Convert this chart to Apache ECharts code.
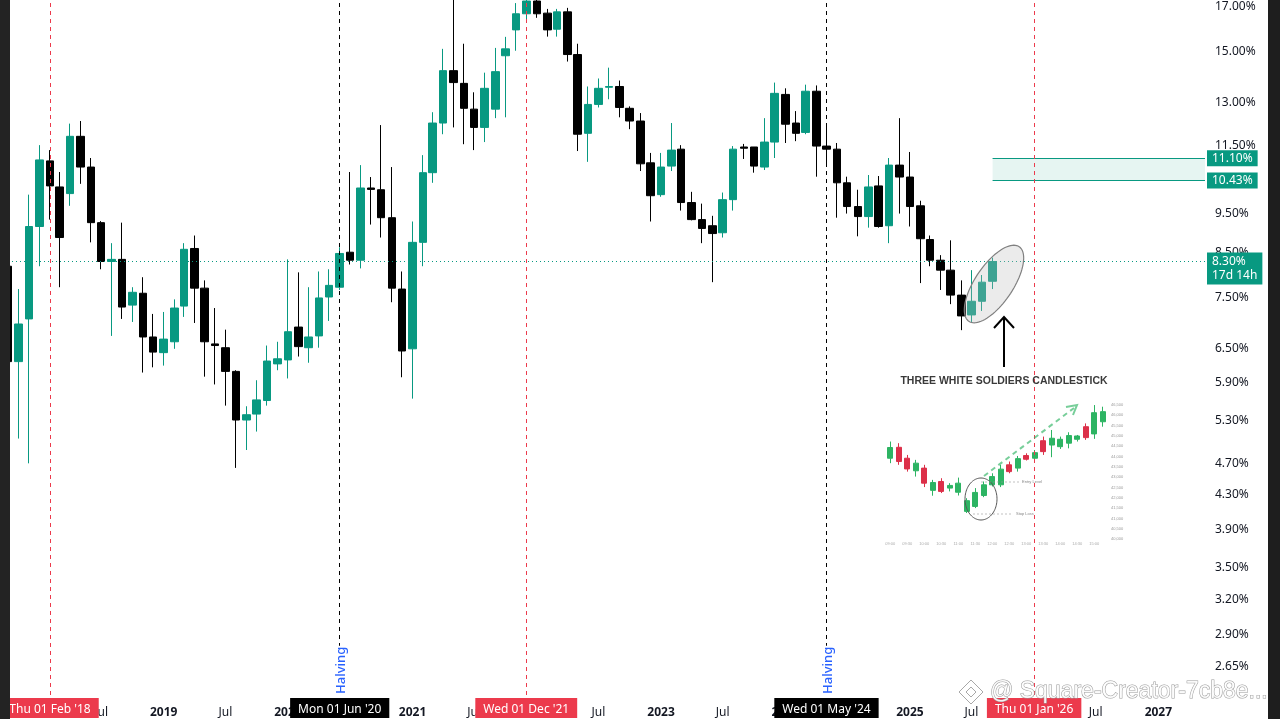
<!DOCTYPE html>
<html>
<head>
<meta charset="utf-8">
<script src="https://cdn.jsdelivr.net/npm/echarts@6/dist/echarts.min.js"></script>
<style>html,body{margin:0;padding:0;background:#fff;overflow:hidden}#c{width:1280px;height:719px}</style>
</head>
<body>
<div id="c"></div>
<script>
// ---------- main chart data (monthly candles, %) ----------
const months = [
'2017-10-01','2017-11-01','2017-12-01',
'2018-01-01','2018-02-01','2018-03-01','2018-04-01','2018-05-01','2018-06-01','2018-07-01','2018-08-01','2018-09-01','2018-10-01','2018-11-01','2018-12-01',
'2019-01-01','2019-02-01','2019-03-01','2019-04-01','2019-05-01','2019-06-01','2019-07-01','2019-08-01','2019-09-01','2019-10-01','2019-11-01','2019-12-01',
'2020-01-01','2020-02-01','2020-03-01','2020-04-01','2020-05-01','2020-06-01','2020-07-01','2020-08-01','2020-09-01','2020-10-01','2020-11-01','2020-12-01',
'2021-01-01','2021-02-01','2021-03-01','2021-04-01','2021-05-01','2021-06-01','2021-07-01','2021-08-01','2021-09-01','2021-10-01','2021-11-01','2021-12-01',
'2022-01-01','2022-02-01','2022-03-01','2022-04-01','2022-05-01','2022-06-01','2022-07-01','2022-08-01','2022-09-01','2022-10-01','2022-11-01','2022-12-01',
'2023-01-01','2023-02-01','2023-03-01','2023-04-01','2023-05-01','2023-06-01','2023-07-01','2023-08-01','2023-09-01','2023-10-01','2023-11-01','2023-12-01',
'2024-01-01','2024-02-01','2024-03-01','2024-04-01','2024-05-01','2024-06-01','2024-07-01','2024-08-01','2024-09-01','2024-10-01','2024-11-01','2024-12-01',
'2025-01-01','2025-02-01','2025-03-01','2025-04-01','2025-05-01','2025-06-01','2025-07-01','2025-08-01','2025-09-01'
];
const openV = [
8.19,6.26,7.06,
9.16,11.02,10.24,10.05,11.81,10.83,9.26,8.30,8.35,7.34,7.59,6.71,
6.42,6.62,7.32,8.61,7.70,6.58,6.51,6.09,5.31,5.40,5.61,6.22,
6.29,6.90,6.51,6.73,7.51,7.72,8.52,8.33,10.21,10.16,9.39,7.68,
6.49,8.76,10.66,12.26,14.21,13.71,12.75,12.11,12.75,14.82,15.94,16.68,
17.29,16.71,15.97,16.77,14.87,11.91,12.92,13.56,13.59,12.78,12.33,10.96,
10.02,10.86,11.39,9.80,9.34,9.18,9.00,9.88,11.46,11.46,10.83,11.62,
13.29,12.26,11.94,13.41,11.49,11.39,10.36,9.69,9.42,10.27,9.18,10.89,
10.53,9.71,8.83,8.33,8.10,7.55,7.14,7.42,7.85
];
const closeV = [
6.26,6.96,9.16,
11.05,10.27,8.88,11.81,10.83,9.26,8.30,8.35,7.30,7.61,6.71,6.43,
6.67,7.28,8.59,7.70,6.62,6.55,6.09,5.31,5.39,5.62,6.27,6.31,
6.81,6.53,6.71,7.49,7.76,8.49,8.33,10.21,10.17,9.39,7.70,6.45,
8.76,10.66,12.26,14.21,13.74,12.78,12.11,13.52,14.17,15.11,16.68,17.29,
16.68,15.94,16.77,14.87,11.88,12.92,13.52,13.59,12.81,12.33,10.93,9.99,
10.83,11.36,9.80,9.34,9.11,8.98,9.88,11.39,11.42,10.86,11.62,13.33,
12.22,11.91,13.41,11.49,11.39,10.36,9.69,9.42,10.24,9.16,10.89,10.53,
9.69,8.85,8.33,8.10,7.55,7.12,7.42,7.83,8.30
];
const lowV = [
6.20,5.04,4.70,
8.19,9.34,7.72,9.71,10.33,8.76,8.12,6.73,7.06,7.00,6.07,6.16,
6.19,6.49,7.10,6.98,6.00,5.87,5.53,4.64,4.88,5.14,5.53,6.11,
5.97,6.35,6.24,6.51,7.02,7.66,8.23,8.14,9.21,8.88,7.40,5.99,
5.64,8.19,10.36,11.88,12.11,11.55,11.36,11.62,12.43,12.46,15.03,16.35,
16.49,15.64,15.64,14.58,11.33,10.99,12.81,13.11,12.46,12.05,10.71,9.29,
9.96,10.71,9.58,9.32,8.74,7.83,8.88,9.58,11.08,10.66,10.74,11.11,
11.59,11.65,11.88,10.54,10.90,9.39,9.50,8.91,9.13,9.13,8.74,9.50,
9.16,7.81,8.19,7.66,7.36,6.84,7.00,7.22,7.68
];
const highV = [
8.35,7.68,10.02,
11.52,11.36,10.68,12.24,12.33,11.11,9.30,8.74,9.26,7.72,7.94,7.16,
7.20,7.46,8.74,8.93,7.87,7.28,6.85,6.11,5.52,5.94,6.55,6.62,
8.35,8.05,7.72,8.07,8.12,8.64,10.68,10.89,10.53,12.19,10.83,8.07,
9.29,11.20,12.64,15.11,17.70,15.33,13.37,14.13,15.15,15.63,17.19,17.50,
17.40,16.91,16.91,16.96,15.33,13.59,13.90,14.33,13.82,12.85,12.61,11.27,
11.27,12.26,11.52,10.10,9.77,9.44,10.08,11.49,11.56,11.46,12.43,13.74,
13.52,12.68,13.66,13.63,12.26,11.59,10.54,10.16,10.59,10.56,11.11,12.43,
11.30,9.85,8.93,8.45,8.81,7.87,8.10,7.99,8.39
];
const yTickValues = [17, 15, 13, 11.5, 9.5, 8.5, 7.5, 6.5, 5.9, 5.3, 4.7, 4.3, 3.9, 3.5, 3.2, 2.9, 2.65];
const xTickDates = ['2018-01-01','2018-07-01','2019-01-01','2019-07-01','2020-01-01','2020-07-01','2021-01-01','2021-07-01',
  '2022-01-01','2022-07-01','2023-01-01','2023-07-01','2024-01-01','2024-07-01','2025-01-01','2025-07-01','2026-01-01','2026-07-01','2027-01-01'];
const lastPrice = 8.30;
const lastPriceLabel = '8.30%\n17d 14h';
const zoneTop = 11.10;
const zoneBottom = 10.43;
const zoneStart = '2025-09-01';
const eventDates = ['2018-02-01','2020-06-01','2021-12-01','2024-05-01','2026-01-01'];
const eventLabels = ["Thu 01 Feb '18","Mon 01 Jun '20","Wed 01 Dec '21","Wed 01 May '24","Thu 01 Jan '26"];
const eventKinds = ['red','black','red','black','red'];
const halvingDates = ['2020-06-01','2024-05-01'];
const axisStart = '2017-09-07';
const axisEnd = '2027-05-18';

// ---------- inset ("three white soldiers" example) ----------
const insetCats = ['09:00','09:15','09:30','09:45','10:00','10:15','10:30','10:45','11:00','11:15','11:30','11:45','12:00',
  '12:15','12:30','12:45','13:00','13:15','13:30','13:45','14:00','14:15','14:30','14:45','15:00','15:15'];
const insetOpen  = [43920,44450,43920,43310,43440,42360,42790,42470,42270,41340,41580,42110,42630,42630,43600,43440,44050,43920,44770,44560,44480,44650,44840,45450,45100,45690];
const insetClose = [44440,43760,43400,43680,42710,42740,42310,42600,42710,41860,42260,42630,43030,43390,43270,43900,43870,44190,44240,44890,44840,45020,45000,44920,46130,46180];
const insetLow   = [43680,43600,43270,43030,42520,42100,42230,42310,42110,41260,41500,42030,42550,42520,43190,43270,43810,43760,44080,43970,44370,44400,44730,44810,44860,45450];
const insetHigh  = [44730,44650,44080,43840,43600,42870,42950,42710,42980,41980,42470,42790,43190,43600,43760,44030,44160,44320,44970,45290,44970,45180,45050,45610,46500,46420];
const insetTitle = 'THREE WHITE SOLDIERS CANDLESTICK';

// ---------- build ----------
const UP = '#089981', DOWN = '#000000', RED = '#ec3a4c';
const FONT = 'Noto Sans';
const ts = s => Date.parse(s + 'T00:00:00Z');
const mainData = months.map((m, i) => [ts(m), openV[i], closeV[i], lowV[i], highV[i]]);
const insetData = insetCats.map((c, i) => [insetOpen[i], insetClose[i], insetLow[i], insetHigh[i]]);

const markLines = [];
markLines.push({
  yAxis: lastPrice,
  lineStyle: { color: UP, type: [1, 3], width: 1 },
  label: { show: true, position: 'end', distance: 2, formatter: lastPriceLabel, backgroundColor: UP, color: '#fff',
    fontFamily: FONT, fontSize: 12, lineHeight: 14, padding: [2, 5, 2, 5], align: 'left', offset: [0, 7] }
});
[zoneTop, zoneBottom].forEach(v => {
  markLines.push([
    { coord: [ts(zoneStart), v], lineStyle: { color: UP, type: 'solid', width: 1 },
      label: { show: true, position: 'end', distance: 2, formatter: v.toFixed(2) + '%', backgroundColor: UP, color: '#fff',
        fontFamily: FONT, fontSize: 12, lineHeight: 13, padding: [2, 5, 1, 5] } },
    { coord: [ts(axisEnd), v] }
  ]);
});
eventDates.forEach((d, i) => {
  const col = eventKinds[i] === 'red' ? RED : '#000';
  markLines.push({
    xAxis: ts(d),
    lineStyle: { color: col, type: [4, 4], width: 1 },
    label: { show: true, position: 'start', distance: 0, formatter: eventLabels[i], backgroundColor: col, color: '#fff',
      fontFamily: FONT, fontSize: 12, padding: [6, 8, 2, 8], offset: [0, 3] }
  });
});
halvingDates.forEach(d => {
  markLines.push({
    xAxis: ts(d),
    lineStyle: { color: 'rgba(0,0,0,0)', width: 0 },
    label: { show: true, position: 'insideStart', distance: 0, formatter: 'Halving', color: '#2962ff', opacity: 1,
      fontFamily: FONT, fontSize: 13, fontWeight: 500, backgroundColor: '#fff', padding: [0, 1], offset: [0, 2] }
  });
});

function ellipsePts(cx, cy, a, b, deg) {
  const t = deg * Math.PI / 180, u = [Math.cos(t), -Math.sin(t)], v = [Math.sin(t), Math.cos(t)];
  const pts = [];
  for (let k = 0; k < 90; k++) {
    const s = k / 90 * 2 * Math.PI;
    pts.push([cx + a * Math.cos(s) * u[0] + b * Math.sin(s) * v[0], cy + a * Math.cos(s) * u[1] + b * Math.sin(s) * v[1]]);
  }
  return pts;
}

const chart = echarts.init(document.getElementById('c'), null, { renderer: 'canvas' });
chart.setOption({
  animation: false,
  backgroundColor: '#ffffff',
  grid: [
    { left: 0, right: 75, top: 0, bottom: 16 },
    { left: 886, right: 173, top: 403, bottom: 180 }
  ],
  xAxis: [
    { type: 'value', gridIndex: 0, min: ts(axisStart), max: ts(axisEnd),
      axisLine: { show: false }, axisTick: { show: false }, splitLine: { show: false },
      axisLabel: { customValues: xTickDates.map(ts), margin: 12, color: '#131722', fontFamily: FONT, fontSize: 12,
        formatter: v => { const d = new Date(v); return d.getUTCMonth() === 0 ? '{y|' + d.getUTCFullYear() + '}' : 'Jul'; },
        rich: { y: { fontWeight: 'bold', fontFamily: FONT, fontSize: 12, color: '#131722' } } } },
    { type: 'category', gridIndex: 1, data: insetCats, boundaryGap: true,
      axisLine: { show: false }, axisTick: { show: false }, splitLine: { show: false },
      axisLabel: { interval: 1, fontSize: 4, color: '#aaa', margin: 3 } }
  ],
  yAxis: [
    { type: 'log', gridIndex: 0, logBase: 10, min: 2.447, max: 17.34, position: 'right',
      axisLine: { show: false }, axisTick: { show: false }, splitLine: { show: false },
      axisLabel: { customValues: yTickValues, formatter: v => v.toFixed(2) + '%', color: '#131722', fontFamily: FONT, fontSize: 12, margin: 10 } },
    { type: 'value', gridIndex: 1, min: 40000, max: 46600, interval: 500, position: 'right',
      axisLine: { show: false }, axisTick: { show: false }, splitLine: { show: false },
      axisLabel: { fontSize: 4, color: '#999', margin: 4, formatter: v => v.toLocaleString('en-US') } }
  ],
  series: [
    { type: 'candlestick', xAxisIndex: 0, yAxisIndex: 0, data: mainData, encode: { x: 0, y: [1, 2, 3, 4] },
      barWidth: 8, silent: true,
      itemStyle: { color: UP, color0: DOWN, borderColor: UP, borderColor0: DOWN, borderWidth: 1 },
      markArea: { silent: true, itemStyle: { color: 'rgba(8,153,129,0.10)' },
        data: [[{ coord: [ts(zoneStart), zoneTop] }, { coord: [ts(axisEnd), zoneBottom] }]] },
      markLine: { silent: true, symbol: ['none', 'none'], animation: false, data: markLines }
    },
    { type: 'candlestick', xAxisIndex: 1, yAxisIndex: 1, data: insetData, barWidth: 5.5, silent: true,
      itemStyle: { color: '#2db463', color0: '#dc3049', borderColor: '#2db463', borderColor0: '#dc3049', borderWidth: 1 } }
  ],
  graphic: [
    { type: 'rect', shape: { x: 0, y: 0, width: 10, height: 719 }, style: { fill: '#232323' }, z: 100 },
    { type: 'rect', shape: { x: 1268, y: 0, width: 12, height: 719 }, style: { fill: '#1e1e1e' }, z: 100 },
    { type: 'polygon', shape: { points: ellipsePts(994, 284, 45, 19, 56) }, style: { fill: 'rgba(190,190,190,0.30)', stroke: '#808080', lineWidth: 1.2 }, z: 50 },
    { type: 'line', shape: { x1: 1004, y1: 367, x2: 1004, y2: 318 }, style: { stroke: '#000', lineWidth: 2 }, z: 50 },
    { type: 'polyline', shape: { points: [[994, 328], [1004, 317], [1014, 328]] }, style: { stroke: '#000', lineWidth: 2, fill: null }, z: 50 },
    { type: 'text', x: 1004, y: 381, style: { text: insetTitle, fill: '#3a3a3a', font: 'bold 10.5px "Liberation Sans"', textAlign: 'center', textVerticalAlign: 'middle' }, z: 50 },
    { type: 'polygon', shape: { points: ellipsePts(981, 499, 21, 16, 90) }, style: { fill: null, stroke: '#555', lineWidth: 1 }, z: 50 },
    { type: 'line', shape: { x1: 984, y1: 476, x2: 1074, y2: 408 }, style: { stroke: 'rgba(46,180,99,0.65)', lineWidth: 2, lineDash: [5, 4] }, z: 50 },
    { type: 'polyline', shape: { points: [[1066, 407], [1077, 405], [1073, 415]] }, style: { stroke: 'rgba(46,180,99,0.65)', lineWidth: 2, fill: null }, z: 50 },
    { type: 'line', shape: { x1: 981, y1: 482, x2: 1019, y2: 482 }, style: { stroke: '#999', lineWidth: 0.6, lineDash: [2, 2] }, z: 50 },
    { type: 'text', x: 1022, y: 482, style: { text: 'Entry Level', fill: '#888', font: '4px sans-serif', textVerticalAlign: 'middle' }, z: 50 },
    { type: 'line', shape: { x1: 973, y1: 514, x2: 1013, y2: 514 }, style: { stroke: '#999', lineWidth: 0.6, lineDash: [2, 2] }, z: 50 },
    { type: 'text', x: 1016, y: 514, style: { text: 'Stop Loss', fill: '#888', font: '4px sans-serif', textVerticalAlign: 'middle' }, z: 50 },
    { type: 'polygon', shape: { points: [[971, 680], [983, 692], [971, 704], [959, 692]] }, style: { fill: 'rgba(255,255,255,0.85)', stroke: '#a8a8a8', lineWidth: 1 }, z: 60 },
    { type: 'polygon', shape: { points: [[971, 687], [976, 692], [971, 697], [966, 692]] }, style: { fill: 'rgba(255,255,255,0.9)', stroke: '#a8a8a8', lineWidth: 1 }, z: 61 },
    { type: 'text', x: 990, y: 692, style: { text: '@ Square-Creator-7cb8e...', fill: 'rgba(255,255,255,0.9)', stroke: '#9a9a9a', lineWidth: 1,
      font: '23px "Liberation Sans"', textVerticalAlign: 'middle' }, z: 60 }
  ]
});
</script>
</body>
</html>
